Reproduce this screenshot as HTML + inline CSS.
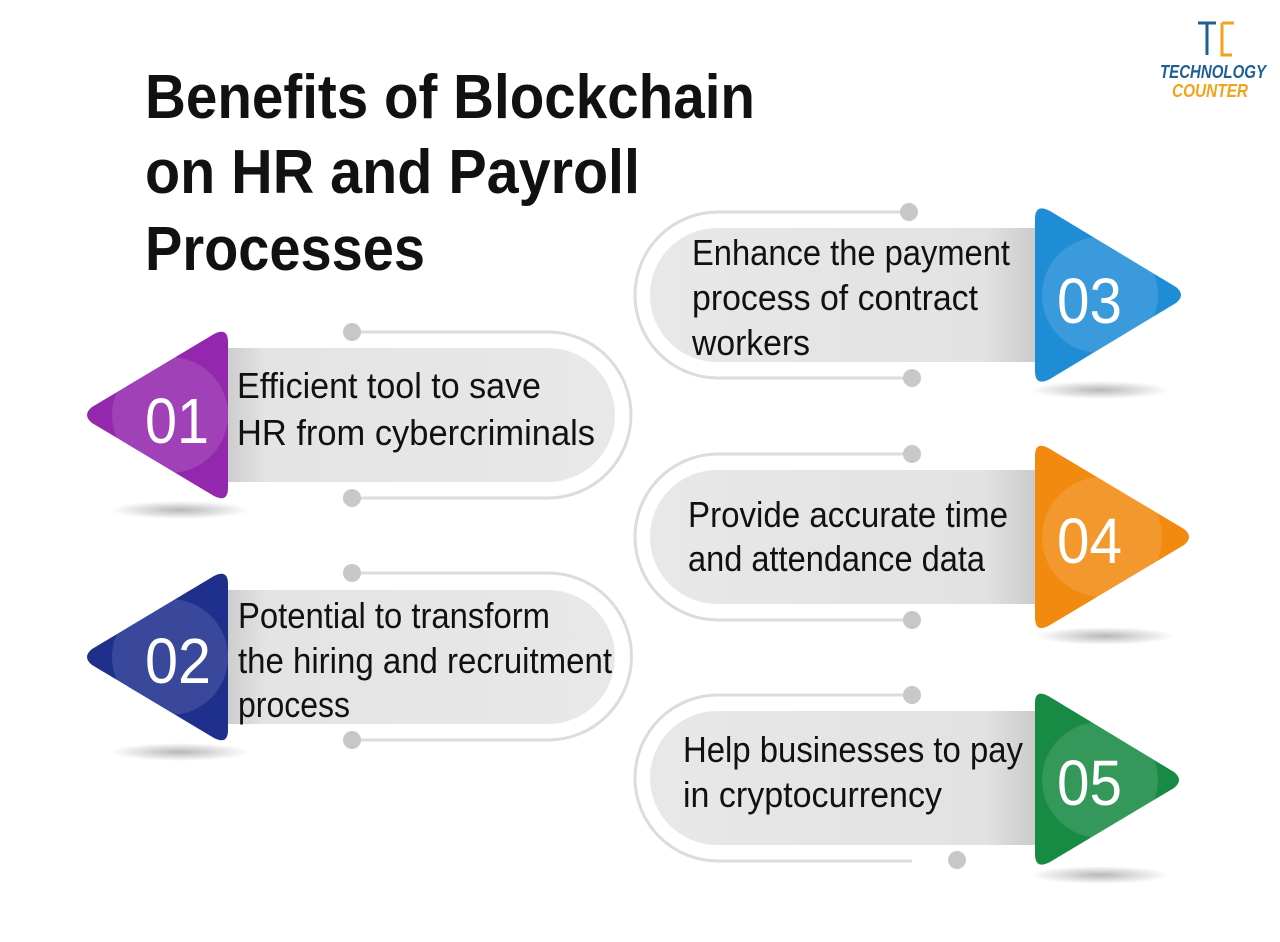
<!DOCTYPE html>
<html><head><meta charset="utf-8"><style>
html,body{margin:0;padding:0;background:#fff;}
svg{display:block}
text{font-family:"Liberation Sans",sans-serif;}
</style></head><body>
<svg width="1280" height="942" viewBox="0 0 1280 942" xmlns="http://www.w3.org/2000/svg">
<defs>
<linearGradient id="pl" x1="0" x2="1" y1="0" y2="0"><stop offset="0" stop-color="#c9c9c9"/><stop offset="0.12" stop-color="#e4e4e4"/><stop offset="1" stop-color="#e8e8e8"/></linearGradient>
<linearGradient id="pr" x1="0" x2="1" y1="0" y2="0"><stop offset="0" stop-color="#e8e8e8"/><stop offset="0.85" stop-color="#e2e2e2"/><stop offset="1" stop-color="#c6c6c6"/></linearGradient>
<radialGradient id="sh"><stop offset="0" stop-color="#000" stop-opacity="0.28"/><stop offset="1" stop-color="#000" stop-opacity="0"/></radialGradient>
</defs>

<!-- Title -->
<g font-weight="bold" font-size="62" fill="#111">
<text x="145" y="118" textLength="610" lengthAdjust="spacingAndGlyphs">Benefits of Blockchain</text>
<text x="145" y="193" textLength="495" lengthAdjust="spacingAndGlyphs">on HR and Payroll</text>
<text x="145" y="270" textLength="280" lengthAdjust="spacingAndGlyphs">Processes</text>
</g>

<!-- Logo -->
<g>
<path d="M1198 23 H1216 M1207 23 V55 M1222 23 H1234 M1222 23 V55 H1232" stroke="#1d5f95" stroke-width="3" fill="none"/>
<path d="M1222 23 H1234 M1222 23 V55 H1232" stroke="#f2a31b" stroke-width="3" fill="none"/>
<text x="1160" y="78" font-size="18" font-weight="bold" font-style="italic" fill="#1d5f95" textLength="106" lengthAdjust="spacingAndGlyphs">TECHNOLOGY</text>
<text x="1172" y="97" font-size="18" font-weight="bold" font-style="italic" fill="#f2a31b" textLength="76" lengthAdjust="spacingAndGlyphs">COUNTER</text>
</g>

<!-- Item 01 -->
<ellipse cx="180" cy="510" rx="70" ry="9" fill="url(#sh)"/>
<path d="M352 332 H548 A83 83 0 0 1 548 498 H352" fill="none" stroke="#dcdcdc" stroke-width="3"/>
<circle cx="352" cy="332" r="9" fill="#c8c8c8"/><circle cx="352" cy="498" r="9" fill="#c8c8c8"/>
<path d="M220 348 H548 A67 67 0 0 1 548 482 H220 Z" fill="url(#pl)"/>
<path d="M228 342 V488 Q228 503 214 496 L92 423 Q82 415 92 407 L214 334 Q228 327 228 342 Z" fill="#9327ad"/>
<circle cx="170" cy="415" r="58" fill="#ffffff" opacity="0.12"/>
<text x="145" y="443" font-size="64" fill="#fff" textLength="64" lengthAdjust="spacingAndGlyphs">01</text>
<g font-size="36" fill="#111">
<text x="237" y="398" textLength="304" lengthAdjust="spacingAndGlyphs">Efficient tool to save</text>
<text x="237" y="445" textLength="358" lengthAdjust="spacingAndGlyphs">HR from cybercriminals</text>
</g>

<!-- Item 02 -->
<ellipse cx="180" cy="752" rx="70" ry="9" fill="url(#sh)"/>
<path d="M352 573 H548 A83 83 0 0 1 548 740 H352" fill="none" stroke="#dcdcdc" stroke-width="3"/>
<circle cx="352" cy="573" r="9" fill="#c8c8c8"/><circle cx="352" cy="740" r="9" fill="#c8c8c8"/>
<path d="M220 590 H548 A67 67 0 0 1 548 724 H220 Z" fill="url(#pl)"/>
<path d="M228 584 V730 Q228 745 214 738 L92 665 Q82 657 92 649 L214 576 Q228 569 228 584 Z" fill="#1e2f8c"/>
<circle cx="170" cy="657" r="58" fill="#ffffff" opacity="0.12"/>
<text x="145" y="683" font-size="64" fill="#fff" textLength="66" lengthAdjust="spacingAndGlyphs">02</text>
<g font-size="36" fill="#111">
<text x="238" y="628" textLength="312" lengthAdjust="spacingAndGlyphs">Potential to transform</text>
<text x="238" y="673" textLength="374" lengthAdjust="spacingAndGlyphs">the hiring and recruitment</text>
<text x="238" y="717" textLength="112" lengthAdjust="spacingAndGlyphs">process</text>
</g>

<!-- Item 03 -->
<ellipse cx="1100" cy="390" rx="70" ry="9" fill="url(#sh)"/>
<path d="M909 212 H718 A83 83 0 0 0 718 378 H912" fill="none" stroke="#dcdcdc" stroke-width="3"/>
<circle cx="909" cy="212" r="9" fill="#c8c8c8"/><circle cx="912" cy="378" r="9" fill="#c8c8c8"/>
<path d="M1045 228 H717 A67 67 0 0 0 717 362 H1045 Z" fill="url(#pr)"/>
<path d="M1035 219 V371 Q1035 387 1050 379 L1176 303 Q1186 295 1176 287 L1050 211 Q1035 203 1035 219 Z" fill="#1f8dd6"/>
<circle cx="1100" cy="295" r="58" fill="#ffffff" opacity="0.12"/>
<text x="1057" y="323" font-size="64" fill="#fff" textLength="65" lengthAdjust="spacingAndGlyphs">03</text>
<g font-size="36" fill="#111">
<text x="692" y="265" textLength="318" lengthAdjust="spacingAndGlyphs">Enhance the payment</text>
<text x="692" y="310" textLength="286" lengthAdjust="spacingAndGlyphs">process of contract</text>
<text x="692" y="355" textLength="118" lengthAdjust="spacingAndGlyphs">workers</text>
</g>

<!-- Item 04 -->
<ellipse cx="1105" cy="636" rx="70" ry="9" fill="url(#sh)"/>
<path d="M912 454 H718 A83 83 0 0 0 718 620 H912" fill="none" stroke="#dcdcdc" stroke-width="3"/>
<circle cx="912" cy="454" r="9" fill="#c8c8c8"/><circle cx="912" cy="620" r="9" fill="#c8c8c8"/>
<path d="M1045 470 H717 A67 67 0 0 0 717 604 H1045 Z" fill="url(#pr)"/>
<path d="M1035 456 V617 Q1035 634 1050 625 L1184 545 Q1194 537 1184 529 L1050 449 Q1035 440 1035 456 Z" fill="#f28a0f"/>
<circle cx="1102" cy="537" r="60" fill="#ffffff" opacity="0.12"/>
<text x="1057" y="563" font-size="64" fill="#fff" textLength="65" lengthAdjust="spacingAndGlyphs">04</text>
<g font-size="36" fill="#111">
<text x="688" y="527" textLength="320" lengthAdjust="spacingAndGlyphs">Provide accurate time</text>
<text x="688" y="571" textLength="297" lengthAdjust="spacingAndGlyphs">and attendance data</text>
</g>

<!-- Item 05 -->
<ellipse cx="1100" cy="875" rx="70" ry="9" fill="url(#sh)"/>
<path d="M912 695 H718 A83 83 0 0 0 718 861 H912" fill="none" stroke="#dcdcdc" stroke-width="3"/>
<circle cx="912" cy="695" r="9" fill="#c8c8c8"/><circle cx="957" cy="860" r="9" fill="#c8c8c8"/>
<path d="M1045 711 H717 A67 67 0 0 0 717 845 H1045 Z" fill="url(#pr)"/>
<path d="M1035 703 V854 Q1035 870 1050 862 L1174 788 Q1184 780 1174 772 L1050 697 Q1035 688 1035 703 Z" fill="#178a43"/>
<circle cx="1100" cy="780" r="58" fill="#ffffff" opacity="0.12"/>
<text x="1057" y="805" font-size="64" fill="#fff" textLength="65" lengthAdjust="spacingAndGlyphs">05</text>
<g font-size="36" fill="#111">
<text x="683" y="762" textLength="340" lengthAdjust="spacingAndGlyphs">Help businesses to pay</text>
<text x="683" y="807" textLength="259" lengthAdjust="spacingAndGlyphs">in cryptocurrency</text>
</g>
</svg>
</body></html>
